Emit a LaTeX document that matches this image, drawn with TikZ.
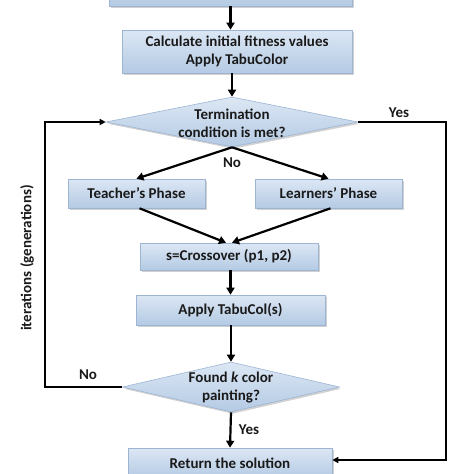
\documentclass[tikz,border=0pt]{standalone}
\usepackage{fontspec}
\setmainfont{Carlito}
\usetikzlibrary{shapes.geometric,arrows.meta,shadows}
\definecolor{boxtop}{HTML}{DCE7F4}
\definecolor{boxbot}{HTML}{B4CAE4}
\definecolor{boxline}{HTML}{9DB5D3}
\definecolor{ink}{HTML}{1A1A1A}

\begin{document}
\begin{tikzpicture}[x=1pt,y=-1pt,font=\fontsize{15}{18}\selectfont\bfseries,
  stepbox/.style={draw=boxline,line width=.6pt,top color=boxtop,bottom color=boxbot,
             rectangle,align=center,inner sep=0pt,text=ink,
             drop shadow={shadow xshift=1.5pt,shadow yshift=-1.8pt,fill=black!40,opacity=.45}},
  decide/.style={draw=boxline,line width=.6pt,top color=boxtop,bottom color=boxbot,
             diamond,inner sep=0pt,
             drop shadow={shadow xshift=1.5pt,shadow yshift=-1.8pt,fill=black!40,opacity=.45}},
  inside/.style={label={[align=center,text=ink,yshift=-1pt]center:#1}},
  flow/.style={draw=black,line width=2.2pt,-{Triangle[length=7pt,width=8pt]}},
  loop/.style={draw=black,line width=1.4pt,-{Triangle[length=6pt,width=6pt]}},
  tag/.style={text=ink}]
\useasboundingbox (0,0) rectangle (474,474);
\clip (0,0) rectangle (474,474);

\node[stepbox,minimum width=243pt,minimum height=40pt] (init) at (230.5,-14) {};
\node[stepbox,minimum width=230pt,minimum height=43pt] (fit) at (237,51.5)
  {Calculate initial fitness values\\Apply TabuColor};
\node[decide,minimum width=252pt,minimum height=50pt,
      inside={Termination\\condition is met?}] (term) at (232,122) {};
\node[stepbox,minimum width=137pt,minimum height=29pt] (teach) at (136.5,193.5) {Teacher’s Phase};
\node[stepbox,minimum width=147pt,minimum height=29pt] (learn) at (328.5,193.5) {Learners’ Phase};
\node[stepbox,minimum width=178pt,minimum height=27pt] (cross) at (229,256.5) {s=Crossover (p1, p2)};
\node[stepbox,minimum width=189pt,minimum height=30pt] (tabu) at (230.5,310) {Apply TabuCol(s)};
\node[decide,minimum width=217pt,minimum height=50pt,
      inside={Found \textit{k} color\\painting?}] (found) at (231,387) {};
\node[stepbox,minimum width=204pt,minimum height=30pt] (ret) at (230,463) {Return the solution};

\coordinate (back) at (45,387);
\coordinate (out) at (446,460);

\draw[flow] (init.south) -- (init.south |- fit.north);
\draw[flow] (fit.south -| term.north) -- (term.north);
\draw[flow] (term.south) -- (teach.north);
\draw[flow] (term.south) -- (learn.north);
\node[tag] (no1) at (232,163) {No};
\draw[flow] ([xshift=3pt]teach.south) -- ([xshift=-3pt]cross.north);
\draw[flow] ([xshift=2pt]learn.south) -- ([xshift=3pt]cross.north);
\draw[flow] (cross.south -| tabu.north) -- (tabu.north);
\draw[flow] (tabu.south -| found.north) -- (found.north);
\draw[flow] (found.south) -- (ret.north);
\node[tag] (yes2) at (249,430) {Yes};
\draw[loop] (found.west) -- (back) |- (term.west);
\node[tag] (no2) at (88,375) {No};
\draw[loop] (term.east) -| (out) -- (ret.east |- out);
\node[tag] (yes1) at (399,113) {Yes};
\node[tag,rotate=90] (iter) at (27,258) {iterations (generations)};
\end{tikzpicture}
\end{document}
